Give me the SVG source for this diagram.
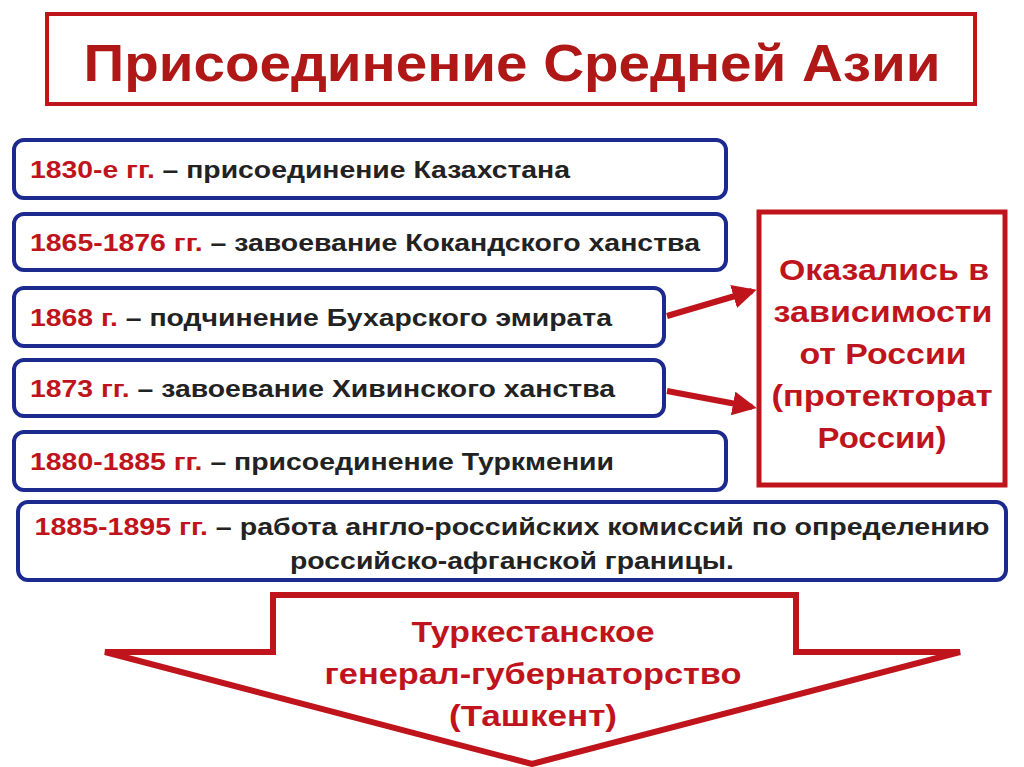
<svg xmlns="http://www.w3.org/2000/svg" width="1024" height="767" viewBox="0 0 1024 767">
<style>
text{font-family:"Liberation Sans",Arial,sans-serif;font-weight:bold}
.b{fill:#fff;stroke:#1c2a8f;stroke-width:4}
.t{font-size:24px;fill:#222}
.r{fill:#c0141c}
.c{font-size:30px;fill:#c0141c;text-anchor:middle}
</style>
<defs><marker id="ah" viewBox="0 0 10 10" refX="8" refY="5" markerWidth="4" markerHeight="4" orient="auto"><path d="M0,0L10,5L0,10z" fill="#c0141c"/></marker></defs>
<rect width="1024" height="767" fill="#fff"/>
<g id="title"><rect x="47" y="14" width="928" height="90" fill="#fff" stroke="#c0141c" stroke-width="4"/>
<text x="512" y="81" text-anchor="middle" font-size="52" fill="#b01818" textLength="857" lengthAdjust="spacingAndGlyphs">Присоединение Средней Азии</text></g>
<g id="n1"><rect class="b" x="14" y="140" width="712" height="58" rx="10"/><text class="t" x="30" y="178" textLength="540" lengthAdjust="spacingAndGlyphs"><tspan class="r">1830-е гг.</tspan> – присоединение Казахстана</text></g>
<g id="n2"><rect class="b" x="14" y="214" width="712" height="56" rx="10"/><text class="t" x="30" y="251" textLength="670" lengthAdjust="spacingAndGlyphs"><tspan class="r">1865-1876 гг.</tspan> – завоевание Кокандского ханства</text></g>
<g id="n3"><rect class="b" x="14" y="288" width="650" height="58" rx="10"/><text class="t" x="30" y="326" textLength="582" lengthAdjust="spacingAndGlyphs"><tspan class="r">1868 г.</tspan> – подчинение Бухарского эмирата</text></g>
<g id="n4"><rect class="b" x="14" y="360" width="650" height="56" rx="10"/><text class="t" x="30" y="397" textLength="585" lengthAdjust="spacingAndGlyphs"><tspan class="r">1873 гг.</tspan> – завоевание Хивинского ханства</text></g>
<g id="n5"><rect class="b" x="14" y="432" width="712" height="58" rx="10"/><text class="t" x="30" y="470" textLength="584" lengthAdjust="spacingAndGlyphs"><tspan class="r">1880-1885 гг.</tspan> – присоединение Туркмении</text></g>
<g id="n6"><rect class="b" x="18" y="502" width="988" height="78" rx="10"/>
<text class="t" x="512" y="535" text-anchor="middle" textLength="955" lengthAdjust="spacingAndGlyphs"><tspan class="r">1885-1895 гг.</tspan> – работа англо-российских комиссий по определению</text>
<text class="t" x="512" y="569" text-anchor="middle" textLength="444" lengthAdjust="spacingAndGlyphs">российско-афганской границы.</text></g>
<g id="n7"><rect x="759" y="212" width="246" height="273" fill="#fff" stroke="#c0141c" stroke-width="5"/>
<text class="c" x="884" y="280" textLength="210" lengthAdjust="spacingAndGlyphs">Оказались в</text><text class="c" x="883" y="322" textLength="219" lengthAdjust="spacingAndGlyphs">зависимости</text><text class="c" x="883" y="364" textLength="167" lengthAdjust="spacingAndGlyphs">от России</text><text class="c" x="882" y="406" textLength="221" lengthAdjust="spacingAndGlyphs">(протекторат</text><text class="c" x="882" y="448" textLength="129" lengthAdjust="spacingAndGlyphs">России)</text></g>
<g id="n8"><polygon points="273,595 796,595 796,652 960,652 532,764 105,652 273,652" fill="#fff" stroke="#c0141c" stroke-width="6" stroke-linejoin="miter"/>
<text class="c" x="533" y="642" textLength="243" lengthAdjust="spacingAndGlyphs">Туркестанское</text>
<text class="c" x="533" y="684" textLength="417" lengthAdjust="spacingAndGlyphs">генерал-губернаторство</text>
<text class="c" x="533" y="726" textLength="168" lengthAdjust="spacingAndGlyphs">(Ташкент)</text></g>
<g id="connectors" stroke="#c0141c" stroke-width="6" fill="none">
<line x1="667" y1="316" x2="752" y2="291" marker-end="url(#ah)"/>
<line x1="667" y1="391" x2="752" y2="407" marker-end="url(#ah)"/>
</g>
</svg>
